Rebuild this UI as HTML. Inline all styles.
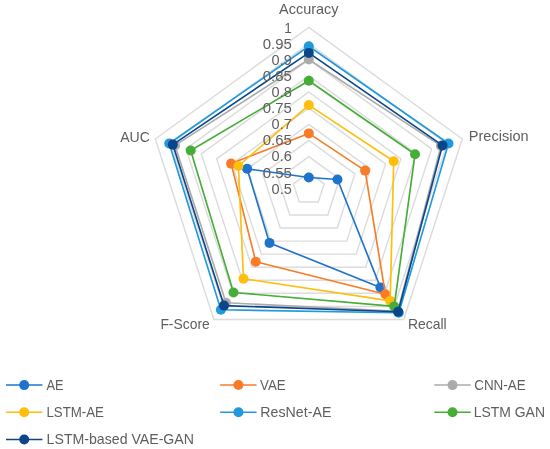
<!DOCTYPE html>
<html lang="en"><head><meta charset="utf-8"><title>Radar chart</title>
<style>html,body{margin:0;padding:0;background:#fff}svg{display:block}text{font-family:"Liberation Sans",Arial,sans-serif;fill:#5E5E5E}</style></head>
<body>
<svg width="550" height="449" viewBox="0 0 550 449">
<rect width="550" height="449" fill="#ffffff"/>
<g fill="none" stroke="#DCDCDC" stroke-width="1.45" stroke-linejoin="miter">
<polygon points="308.8,172.7 324.2,183.9 318.3,201.9 299.3,201.9 293.4,183.9"/>
<polygon points="308.8,156.6 339.5,178.9 327.8,215.0 289.8,215.0 278.1,178.9"/>
<polygon points="308.8,140.4 354.9,173.9 337.3,228.0 280.3,228.0 262.7,173.9"/>
<polygon points="308.8,124.3 370.2,168.9 346.7,241.1 270.9,241.1 247.4,168.9"/>
<polygon points="308.8,108.1 385.6,163.9 356.2,254.1 261.4,254.1 232.0,163.9"/>
<polygon points="308.8,92.0 400.9,158.9 365.7,267.2 251.9,267.2 216.7,158.9"/>
<polygon points="308.8,75.9 416.3,153.9 375.2,280.3 242.4,280.3 201.3,153.9"/>
<polygon points="308.8,59.7 431.6,148.9 384.7,293.3 232.9,293.3 186.0,148.9"/>
<polygon points="308.8,43.6 447.0,144.0 394.2,306.4 223.4,306.4 170.6,144.0"/>
<polygon points="308.8,27.4 462.3,139.0 403.7,319.4 213.9,319.4 155.3,139.0"/>
</g>
<g stroke="#1F73CB" fill="#1F73CB">
<polygon fill="none" stroke-width="1.65" stroke-linejoin="round" points="308.8,177.5 337.5,179.5 380.4,287.4 269.5,242.9 247.1,168.8"/>
<circle stroke="none" cx="308.8" cy="177.5" r="5"/>
<circle stroke="none" cx="337.5" cy="179.5" r="5"/>
<circle stroke="none" cx="380.4" cy="287.4" r="5"/>
<circle stroke="none" cx="269.5" cy="242.9" r="5"/>
<circle stroke="none" cx="247.1" cy="168.8" r="5"/>
</g>
<g stroke="#F97B27" fill="#F97B27">
<polygon fill="none" stroke-width="1.65" stroke-linejoin="round" points="308.8,133.4 365.1,170.6 385.4,294.3 255.8,261.7 231.1,163.6"/>
<circle stroke="none" cx="308.8" cy="133.4" r="5"/>
<circle stroke="none" cx="365.1" cy="170.6" r="5"/>
<circle stroke="none" cx="385.4" cy="294.3" r="5"/>
<circle stroke="none" cx="255.8" cy="261.7" r="5"/>
<circle stroke="none" cx="231.1" cy="163.6" r="5"/>
</g>
<g stroke="#ABABAB" fill="#ABABAB">
<polygon fill="none" stroke-width="1.65" stroke-linejoin="round" points="308.8,59.5 441.0,145.9 397.8,311.3 226.0,302.8 175.0,145.4"/>
<circle stroke="none" cx="308.8" cy="59.5" r="5"/>
<circle stroke="none" cx="441.0" cy="145.9" r="5"/>
<circle stroke="none" cx="397.8" cy="311.3" r="5"/>
<circle stroke="none" cx="226.0" cy="302.8" r="5"/>
<circle stroke="none" cx="175.0" cy="145.4" r="5"/>
</g>
<g stroke="#FDBE0C" fill="#FDBE0C">
<polygon fill="none" stroke-width="1.65" stroke-linejoin="round" points="308.8,105.1 393.7,161.3 390.2,300.9 243.5,278.7 238.4,166.0"/>
<circle stroke="none" cx="308.8" cy="105.1" r="5"/>
<circle stroke="none" cx="393.7" cy="161.3" r="5"/>
<circle stroke="none" cx="390.2" cy="300.9" r="5"/>
<circle stroke="none" cx="243.5" cy="278.7" r="5"/>
<circle stroke="none" cx="238.4" cy="166.0" r="5"/>
</g>
<g stroke="#2199DC" fill="#2199DC">
<polygon fill="none" stroke-width="1.65" stroke-linejoin="round" points="308.8,46.2 448.5,143.5 398.8,312.8 220.9,309.8 169.2,143.5"/>
<circle stroke="none" cx="308.8" cy="46.2" r="5"/>
<circle stroke="none" cx="448.5" cy="143.5" r="5"/>
<circle stroke="none" cx="398.8" cy="312.8" r="5"/>
<circle stroke="none" cx="220.9" cy="309.8" r="5"/>
<circle stroke="none" cx="169.2" cy="143.5" r="5"/>
</g>
<g stroke="#45AD38" fill="#45AD38">
<polygon fill="none" stroke-width="1.65" stroke-linejoin="round" points="308.8,80.7 415.0,154.3 394.2,306.4 233.5,292.5 190.7,150.5"/>
<circle stroke="none" cx="308.8" cy="80.7" r="5"/>
<circle stroke="none" cx="415.0" cy="154.3" r="5"/>
<circle stroke="none" cx="394.2" cy="306.4" r="5"/>
<circle stroke="none" cx="233.5" cy="292.5" r="5"/>
<circle stroke="none" cx="190.7" cy="150.5" r="5"/>
</g>
<g stroke="#0B4688" fill="#0B4688">
<polygon fill="none" stroke-width="1.65" stroke-linejoin="round" points="308.8,52.9 442.5,145.4 398.1,311.8 224.0,305.6 172.8,144.6"/>
<circle stroke="none" cx="308.8" cy="52.9" r="5"/>
<circle stroke="none" cx="442.5" cy="145.4" r="5"/>
<circle stroke="none" cx="398.1" cy="311.8" r="5"/>
<circle stroke="none" cx="224.0" cy="305.6" r="5"/>
<circle stroke="none" cx="172.8" cy="144.6" r="5"/>
</g>
<g font-size="14.9" text-anchor="end">
<text x="291.8" y="193.60" textLength="20.2" lengthAdjust="spacingAndGlyphs">0.5</text>
<text x="291.8" y="177.52" textLength="29.1" lengthAdjust="spacingAndGlyphs">0.55</text>
<text x="291.8" y="161.44" textLength="20.2" lengthAdjust="spacingAndGlyphs">0.6</text>
<text x="291.8" y="145.36" textLength="29.1" lengthAdjust="spacingAndGlyphs">0.65</text>
<text x="291.8" y="129.28" textLength="20.2" lengthAdjust="spacingAndGlyphs">0.7</text>
<text x="291.8" y="113.20" textLength="29.1" lengthAdjust="spacingAndGlyphs">0.75</text>
<text x="291.8" y="97.12" textLength="20.2" lengthAdjust="spacingAndGlyphs">0.8</text>
<text x="291.8" y="81.04" textLength="29.1" lengthAdjust="spacingAndGlyphs">0.85</text>
<text x="291.8" y="64.96" textLength="20.2" lengthAdjust="spacingAndGlyphs">0.9</text>
<text x="291.8" y="48.88" textLength="29.1" lengthAdjust="spacingAndGlyphs">0.95</text>
<text x="291.8" y="32.80" textLength="7.6" lengthAdjust="spacingAndGlyphs">1</text>
</g>
<g font-size="14.4">
<text x="279.1" y="14.1" textLength="59.5" lengthAdjust="spacingAndGlyphs">Accuracy</text>
<text x="468.8" y="141.2" textLength="59.8" lengthAdjust="spacingAndGlyphs">Precision</text>
<text x="407.9" y="329.1" textLength="38.8" lengthAdjust="spacingAndGlyphs">Recall</text>
<text x="160.4" y="329.3" textLength="49.4" lengthAdjust="spacingAndGlyphs">F-Score</text>
<text x="120.2" y="141.8" textLength="29.7" lengthAdjust="spacingAndGlyphs">AUC</text>
</g>
<g font-size="14.4">
<line x1="6.0" y1="385.1" x2="42.4" y2="385.1" stroke="#1F73CB" stroke-width="1.5"/>
<circle cx="24.2" cy="385.1" r="5" fill="#1F73CB"/>
<text x="46.4" y="389.9" textLength="17.1" lengthAdjust="spacingAndGlyphs">AE</text>
<line x1="220.2" y1="385.0" x2="256.6" y2="385.0" stroke="#F97B27" stroke-width="1.5"/>
<circle cx="238.4" cy="385.0" r="5" fill="#F97B27"/>
<text x="260.1" y="389.8" textLength="25.6" lengthAdjust="spacingAndGlyphs">VAE</text>
<line x1="434.3" y1="385.1" x2="470.7" y2="385.1" stroke="#ABABAB" stroke-width="1.5"/>
<circle cx="452.5" cy="385.1" r="5" fill="#ABABAB"/>
<text x="474.2" y="389.9" textLength="51.5" lengthAdjust="spacingAndGlyphs">CNN-AE</text>
<line x1="6.0" y1="412.3" x2="42.4" y2="412.3" stroke="#FDBE0C" stroke-width="1.5"/>
<circle cx="24.2" cy="412.3" r="5" fill="#FDBE0C"/>
<text x="46.4" y="417.1" textLength="57.6" lengthAdjust="spacingAndGlyphs">LSTM-AE</text>
<line x1="220.2" y1="412.3" x2="256.6" y2="412.3" stroke="#2199DC" stroke-width="1.5"/>
<circle cx="238.4" cy="412.3" r="5" fill="#2199DC"/>
<text x="260.3" y="417.1" textLength="71.1" lengthAdjust="spacingAndGlyphs">ResNet-AE</text>
<line x1="434.3" y1="412.3" x2="470.7" y2="412.3" stroke="#45AD38" stroke-width="1.5"/>
<circle cx="452.5" cy="412.3" r="5" fill="#45AD38"/>
<text x="473.7" y="417.1" textLength="71.3" lengthAdjust="spacingAndGlyphs">LSTM GAN</text>
<line x1="6.0" y1="439.5" x2="42.4" y2="439.5" stroke="#0B4688" stroke-width="1.5"/>
<circle cx="24.2" cy="439.5" r="5" fill="#0B4688"/>
<text x="46.6" y="444.3" textLength="147.4" lengthAdjust="spacingAndGlyphs">LSTM-based VAE-GAN</text>
</g>
</svg>
</body></html>
